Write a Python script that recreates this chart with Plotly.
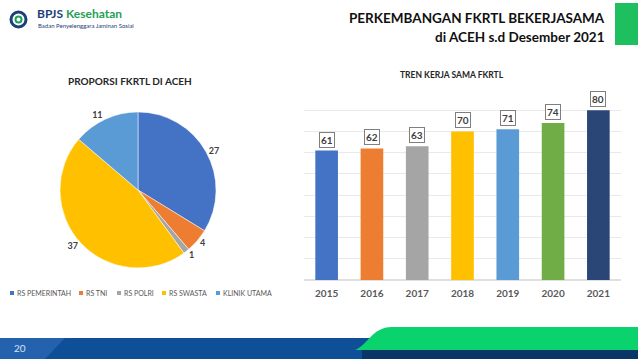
import plotly.graph_objects as go

# ---- data ----
pie_labels = ["RS PEMERINTAH", "RS TNI", "RS POLRI", "RS SWASTA", "KLINIK UTAMA"]
pie_values = [27, 4, 1, 37, 11]
pie_colors = ["#4472C4", "#ED7D31", "#A5A5A5", "#FFC000", "#5B9BD5"]

years = ["2015", "2016", "2017", "2018", "2019", "2020", "2021"]
counts = [61, 62, 63, 70, 71, 74, 80]
bar_colors = ["#4472C4", "#ED7D31", "#A5A5A5", "#FFC000", "#5B9BD5", "#70AD47", "#2A4677"]

W, H = 638, 359
FONT = "Lato"


def px(x):
    return x / W


def py(y):
    return 1 - y / H


fig = go.Figure()

fig.add_trace(go.Pie(
    labels=pie_labels, values=pie_values, sort=False, direction="clockwise",
    rotation=0, marker=dict(colors=pie_colors, line=dict(color="white", width=0.5)),
    textinfo="value", textposition="outside",
    textfont=dict(family=FONT, size=9, color="#404040", weight="bold"),
    domain=dict(x=[px(60), px(216)], y=[py(268), py(112)]),
    showlegend=False, hoverinfo="label+value",
))

fig.add_trace(go.Bar(
    x=years, y=counts, marker=dict(color=bar_colors, line=dict(width=0)),
    showlegend=False,
))

annotations = []
for i, c in enumerate(counts):
    annotations.append(dict(
        x=i, y=c, xref="x", yref="y", yanchor="bottom", yshift=3,
        text=str(c), showarrow=False,
        font=dict(family=FONT, size=10, color="#404040", weight="bold"),
        bordercolor="#7F7F7F", borderwidth=1, borderpad=1, bgcolor="white",
    ))

# titles
annotations += [
    dict(x=px(607), y=py(18), xref="paper", yref="paper", xanchor="right", yanchor="middle",
         text="<b>PERKEMBANGAN FKRTL BEKERJASAMA</b>", showarrow=False,
         font=dict(family=FONT, size=13.5, color="#111111")),
    dict(x=px(607), y=py(37), xref="paper", yref="paper", xanchor="right", yanchor="middle",
         text="<b>di ACEH s.d Desember 2021</b>", showarrow=False,
         font=dict(family=FONT, size=13.5, color="#111111")),
    dict(x=px(130), y=py(81), xref="paper", yref="paper", xanchor="center", yanchor="middle",
         text="<b>PROPORSI FKRTL DI ACEH</b>", showarrow=False,
         font=dict(family=FONT, size=10, color="#262626")),
    dict(x=px(452), y=py(75), xref="paper", yref="paper", xanchor="center", yanchor="middle",
         text="<b>TREN KERJA SAMA FKRTL</b>", showarrow=False,
         font=dict(family=FONT, size=8.5, color="#262626")),
    # logo text
    dict(x=px(35), y=py(14), xref="paper", yref="paper", xanchor="left", yanchor="middle",
         text="<b><span style='color:#1B3F7A'>BPJS</span> <span style='color:#1FA055'>Kesehatan</span></b>",
         showarrow=False, font=dict(family=FONT, size=12)),
    dict(x=px(36), y=py(25.5), xref="paper", yref="paper", xanchor="left", yanchor="middle",
         text="Badan Penyelenggara Jaminan Sosial", showarrow=False,
         font=dict(family=FONT, size=6, color="#1B3F7A")),
    dict(x=px(20), y=py(348), xref="paper", yref="paper", xanchor="center", yanchor="middle",
         text="20", showarrow=False, font=dict(family=FONT, size=10, color="#D6E4F5")),
]

shapes = [
    # logo icon
    dict(type="circle", xref="paper", yref="paper", x0=px(11), x1=px(26), y0=py(27), y1=py(12),
         line=dict(color="#1B3F7A", width=3)),
    dict(type="circle", xref="paper", yref="paper", x0=px(15.5), x1=px(21.5), y0=py(22.5), y1=py(16.5),
         line=dict(color="#1FA055", width=2)),
    # green corner block
    dict(type="rect", xref="paper", yref="paper", x0=px(615), x1=1, y0=py(45), y1=py(3),
         fillcolor="#1DBF5F", line=dict(width=0)),
    # bottom blue band
    dict(type="rect", xref="paper", yref="paper", x0=0, x1=1, y0=0, y1=py(338),
         fillcolor="#0F4F98", line=dict(width=0), layer="above"),
    dict(type="path", xref="paper", yref="paper",
         path=f"M 0 {py(338)} L {px(65)} {py(338)} L {px(45)} {py(359)} L 0 0 Z",
         fillcolor="#2462AE", line=dict(width=0), layer="above"),
    # dark shadow under green
    dict(type="rect", xref="paper", yref="paper", x0=px(362), x1=1, y0=0, y1=py(350),
         fillcolor="#0A3568", line=dict(width=0), layer="above"),
    # green swoosh
    dict(type="path", xref="paper", yref="paper",
         path=(f"M {px(355)} {py(350)} C {px(368)} {py(345)} {px(372)} {py(327)} {px(392)} {py(327)} "
               f"L 1 {py(327)} L 1 {py(350)} Z"),
         fillcolor="#0AD26C", line=dict(width=0), layer="above"),
]

# custom compact legend for the pie
legend_x = [10, 79, 117, 162, 216]
for lx, lab, col in zip(legend_x, pie_labels, pie_colors):
    shapes.append(dict(type="rect", xref="paper", yref="paper",
                       x0=px(lx), x1=px(lx + 4), y0=py(295), y1=py(291),
                       fillcolor=col, line=dict(width=0)))
    annotations.append(dict(x=px(lx + 5), y=py(293), xref="paper", yref="paper",
                            xanchor="left", yanchor="middle", text=lab, showarrow=False,
                            font=dict(family=FONT, size=7, color="#595959")))

fig.update_layout(
    width=W, height=H, margin=dict(l=0, r=0, t=0, b=0),
    paper_bgcolor="white", plot_bgcolor="white",
    font=dict(family=FONT), bargap=0.5,
    xaxis=dict(type="category", domain=[px(304), px(621)], range=[-0.5, 6.5],
               autorange=False, showgrid=False, zeroline=False,
               showline=False, ticks="", ticklabelstandoff=6,
               tickfont=dict(family=FONT, size=10, color="#595959", weight="bold"),
               fixedrange=True),
    yaxis=dict(domain=[py(280), py(89)], range=[0, 90], autorange=False, dtick=10,
               showgrid=True, gridcolor="#E9E9E9", gridwidth=1, zeroline=True,
               zerolinecolor="#E0E0E0", showticklabels=False, ticks="", showline=False,
               fixedrange=True),
    annotations=annotations, shapes=shapes,
    showlegend=False,
)

fig.write_html("out.html", post_script="document.body.style.margin='0';",
               config={"displayModeBar": False})
